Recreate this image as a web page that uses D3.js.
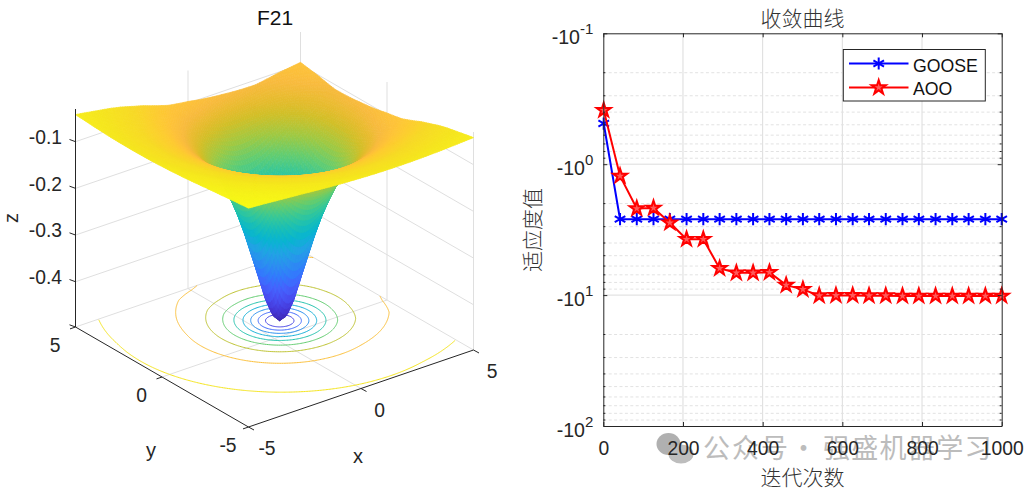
<!DOCTYPE html>
<html><head><meta charset="utf-8">
<script src="https://cdn.jsdelivr.net/npm/d3@7"></script>
<style>
html,body{margin:0;padding:0;background:#fff}
svg{display:block}
text{font-family:"Liberation Sans",Arial,sans-serif}
.cjk{font-family:"Noto Sans CJK SC",sans-serif;font-weight:300}
.cjk.wm{font-weight:400}
</style></head><body>
<svg id="c" width="1026" height="490"></svg>
<script>
// ---- convergence panel: values ----
const iterations=[1,42,84,126,167,209,251,292,334,376,417,459,501,542,584,626,667,709,751,792,834,876,917,959,1000];
const gooseValues=[0.489,2.63,2.63,2.63,2.63,2.63,2.63,2.63,2.63,2.63,2.63,2.63,2.63,2.63,2.63,2.63,2.63,2.63,2.63,2.63,2.63,2.63,2.63,2.63,2.63];
const aooValues=[0.387,1.23,2.18,2.16,2.8,3.74,3.74,6.25,6.76,6.76,6.7,8.39,9.04,10.1,10.05,10.05,10.1,10.1,10.15,10.15,10.15,10.15,10.15,10.15,10.15];
const seriesNames=["GOOSE","AOO"];
const xTickValues=[0,200,400,600,800,1000];
const yDecades=[0.1,1,10,100];
const yExponents=["-1","0","1","2"];
const yMinor=[0.2,0.3,0.4,0.5,0.6,0.7,0.8,0.9,2,3,4,5,6,7,8,9,20,30,40,50,60,70,80,90];

// ---- surface panel: height profile estimated from the contour rings and silhouette ----
// well centred at (1,1): distance -> height contribution
const wellRadius=[0,0.25,0.5,0.75,1,1.25,1.5,1.75,2,2.5,3,3.5,4,5,6,7,8,10,13];
const wellHeight=[-0.4545,-0.442,-0.408,-0.36,-0.3125,-0.266,-0.225,-0.191,-0.161,-0.118,-0.089,-0.069,-0.055,-0.037,-0.0263,-0.0196,-0.0151,-0.0098,-0.0058];
// broad sag towards the back corner: distance from (5.5,5.5) -> height contribution
const sagDistance=[0,0.7,2.1,2.55,4,5.5,6.4,8.5,10.5,12,15];
const sagHeight=[-0.0665,-0.065,-0.064,-0.0635,-0.052,-0.0436,-0.0426,-0.029,-0.0235,-0.02,-0.0141];
const contourLevels=[-0.45,-0.4,-0.35,-0.3,-0.25,-0.2,-0.15,-0.1,-0.05];
const zTickValues=[-0.1,-0.2,-0.3,-0.4];
const zTickLabels=["-0.1","-0.2","-0.3","-0.4"];
const xyTickValues=[-5,0,5];
const parula=["#3e26a8","#4537d5","#484df0","#4563fd","#327bfc","#2b91ef","#20a5e3","#08b5d0","#19bfb6","#37c897","#64cd6f","#9dc943","#d1bf27","#e6bb2d","#f8ba3d","#fec338","#fcce2e","#f7d925","#f5e51d","#f9fb15"];
const parulaIndex=[0,4,8,12,16,20,24,28,32,36,40,44,48,50,52,54,56,58,60,63];

const svg=d3.select("#c");
const ink="#262626";
const tickFont=19.3;

// ===== left panel =====
const zFloor=-0.497, zTop=-0.03, zMaxColor=-0.0276;
const corner={x:248.5,y:427};
const xSx=d3.scaleLinear([-5,5],[0,225]), xSy=d3.scaleLinear([-5,5],[0,-77]);
const ySx=d3.scaleLinear([-5,5],[0,-173]), ySy=d3.scaleLinear([-5,5],[0,-100]);
const zS=d3.scaleLinear([zFloor,zTop],[0,-218]);
const P=(x,y,z)=>[corner.x+xSx(x)+ySx(y), corner.y+xSy(x)+ySy(y)+zS(z)];
const well=d3.scaleLinear(wellRadius,wellHeight).clamp(true);
const sag=d3.scaleLinear(sagDistance,sagHeight).clamp(true);
const height=(x,y)=>well(Math.hypot(x-1,y-1))+sag(Math.hypot(x-5.5,y-5.5));
const color=d3.scaleLinear(parulaIndex.map(i=>zFloor+(zMaxColor-zFloor)*i/63),parula).clamp(true);
const line=d3.line();

const left=svg.append("g");
// back walls and floor grid
const grid=left.append("g").attr("fill","none").attr("stroke","#dfdfdf").attr("stroke-width",1);
zTickValues.forEach(z=>{
  grid.append("path").attr("d",line([P(-5,5,z),P(5,5,z),P(5,-5,z)]));
});
[0,5].forEach(x=>grid.append("path").attr("d",line([P(x,5,zFloor),P(x,5,zTop)])));
[0,-5].forEach(y=>grid.append("path").attr("d",line([P(5,y,zFloor),P(5,y,zTop)])));
grid.append("path").attr("d",line([P(0,-5,zFloor),P(0,5,zFloor)]));
grid.append("path").attr("d",line([P(-5,0,zFloor),P(5,0,zFloor)]));
grid.append("path").attr("d",line([P(-5,5,zFloor),P(5,5,zFloor),P(5,-5,zFloor)]));

// contours on the floor
const N=201, gridAxis=d3.range(N).map(i=>-5+10*i/(N-1));
const values=new Float64Array(N*N);
gridAxis.forEach((y,j)=>gridAxis.forEach((x,i)=>{values[j*N+i]=height(x,y);}));
const rings=d3.contours().size([N,N]).thresholds(contourLevels)(values);
const toDom=c=>-5+10*(c-0.5)/(N-1);
const contourG=left.append("g").attr("fill","none").attr("stroke-width",1);
rings.forEach(mp=>{
  const segs=[];
  mp.coordinates.forEach(poly=>poly.forEach(ring=>{
    let cur=[];
    ring.forEach(p=>{
      const inside=p[0]>0.51&&p[0]<N-0.51&&p[1]>0.51&&p[1]<N-0.51;
      if(inside)cur.push(P(toDom(p[0]),toDom(p[1]),zFloor));
      else{ if(cur.length>1)segs.push(cur); cur=[]; }
    });
    if(cur.length>1)segs.push(cur);
  }));
  contourG.append("path").attr("d",segs.map(s=>line(s)).join("")).attr("stroke",color(mp.value));
});

// surface, drawn back to front
const M=100, nodes=d3.range(M+1).map(i=>-5+10*i/M), cells=[];
for(let j=0;j<M;j++)for(let i=0;i<M;i++){
  const x0=nodes[i],x1=nodes[i+1],y0=nodes[j],y1=nodes[j+1];
  const z00=height(x0,y0),z10=height(x1,y0),z11=height(x1,y1),z01=height(x0,y1);
  cells.push({pts:[P(x0,y0,z00),P(x1,y0,z10),P(x1,y1,z11),P(x0,y1,z01)],z:(z00+z10+z11+z01)/4,depth:P((x0+x1)/2,(y0+y1)/2,zFloor)[1]});
}
cells.sort((a,b)=>a.depth-b.depth);
left.append("g").attr("stroke-width",0.7).selectAll("path").data(cells).join("path")
  .attr("d",d=>line(d.pts)+"Z").attr("fill",d=>color(d.z)).attr("stroke",d=>color(d.z));

// axes
const axisG=left.append("g").attr("fill","none").attr("stroke",ink).attr("stroke-width",1);
axisG.append("path").attr("d",line([P(-5,5,zTop),P(-5,5,zFloor),P(-5,-5,zFloor),P(5,-5,zFloor)]));
const tick=(p,dx,dy)=>axisG.append("path").attr("d",line([p,[p[0]+dx,p[1]+dy]]));
zTickValues.concat([zFloor]).forEach(z=>tick(P(-5,5,z),-6,-2.2));
xyTickValues.forEach(x=>tick(P(x,-5,zFloor),5.5,3));
xyTickValues.forEach(y=>tick(P(-5,y,zFloor),-5.5,1.9));
const lab=(t,x,y,anchor,size,fill)=>left.append("text").attr("x",x).attr("y",y).attr("text-anchor",anchor||"middle").attr("font-size",size||tickFont).attr("fill",fill||ink).text(t);
zTickValues.forEach((z,i)=>lab(zTickLabels[i],62,P(-5,5,z)[1]+2.2,"end"));
xyTickValues.forEach(x=>{const p=P(x,-5,zFloor);lab(String(x),p[0]+18.5,p[1]+28);});
xyTickValues.forEach(y=>{const p=P(-5,y,zFloor);lab(String(y),p[0]-20.5,p[1]+25);});
lab("F21",275,25,"middle",21,"#111");
lab("x",358,463,"middle",20);
lab("y",151,457,"middle",20);
left.append("text").attr("transform","translate(18,218) rotate(-90)").attr("text-anchor","middle").attr("font-size",20).attr("fill",ink).text("z");

// ===== right panel =====
const plot={l:603.3,r:1001.7,t:33.3,b:426};
const xScale=d3.scaleLinear([0,1000],[plot.l,plot.r]);
const yScale=d3.scaleLog([0.1,100],[plot.t,plot.b]);
const right=svg.append("g");

// watermark
const wm=right.append("g");
wm.append("ellipse").attr("cx",668.5).attr("cy",444).attr("rx",12).attr("ry",11).attr("fill","#b0b0b0");
wm.append("ellipse").attr("cx",681).attr("cy",454).attr("rx",12.5).attr("ry",9.5).attr("fill","#bdbdbd");
const wmText=wm.append("text").attr("class","cjk wm").attr("y",458).attr("font-size",27).attr("fill","#bcbcbc");
wmText.append("tspan").attr("x",703).attr("letter-spacing",2).text("公众号");
wmText.append("tspan").attr("x",790).text("·");
wmText.append("tspan").attr("x",823).attr("letter-spacing",1.3).text("强盛机器学习");

const g2=right.append("g").attr("fill","none");
xTickValues.slice(1,-1).forEach(v=>g2.append("line").attr("x1",xScale(v)).attr("x2",xScale(v)).attr("y1",plot.t).attr("y2",plot.b).attr("stroke","#dcdcdc"));
yDecades.slice(1,-1).forEach(v=>g2.append("line").attr("x1",plot.l).attr("x2",plot.r).attr("y1",yScale(v)).attr("y2",yScale(v)).attr("stroke","#dcdcdc"));
yMinor.forEach(v=>g2.append("line").attr("x1",plot.l).attr("x2",plot.r).attr("y1",yScale(v)).attr("y2",yScale(v)).attr("stroke","#e2e2e2").attr("stroke-dasharray","3 2.4"));

const seriesLine=d3.line().x((d,i)=>xScale(iterations[i])).y(d=>yScale(d));
const star=d3.symbol(d3.symbolStar,62)(), aster=d3.symbol(d3.symbolAsterisk,105)();
const markFill={"#0000ff":"none","#ff0000":"#ff5a5a"};
[[gooseValues,"#0000ff",aster],[aooValues,"#ff0000",star]].forEach(([vals,col,sym])=>{
  const g=right.append("g");
  g.append("path").attr("d",seriesLine(vals)).attr("fill","none").attr("stroke",col).attr("stroke-width",2);
  g.selectAll("path.m").data(vals).join("path").attr("class","m").attr("d",sym)
    .attr("transform",(d,i)=>`translate(${xScale(iterations[i])},${yScale(d)})`)
    .attr("fill",markFill[col]).attr("stroke",col).attr("stroke-width",2);
});

// box, ticks, labels via d3 axes
const frame=right.append("g");
const xAxis=frame.append("g").attr("transform",`translate(0,${plot.b})`).call(d3.axisBottom(xScale).tickValues(xTickValues).tickSizeInner(-4).tickSizeOuter(0).tickFormat(d3.format("d")));
xAxis.selectAll("text").attr("y",28.5).attr("dy",0).attr("font-size",tickFont).attr("fill",ink).attr("font-family","Liberation Sans");
const xTop=frame.append("g").attr("transform",`translate(0,${plot.t})`).call(d3.axisTop(xScale).tickValues(xTickValues).tickSizeInner(-4).tickSizeOuter(0).tickFormat(""));
const yAxis=frame.append("g").attr("transform",`translate(${plot.l},0)`).call(d3.axisLeft(yScale).tickValues(yDecades).tickSizeInner(-4).tickSizeOuter(0).tickFormat(""));
const yRight=frame.append("g").attr("transform",`translate(${plot.r},0)`).call(d3.axisRight(yScale).tickValues(yDecades).tickSizeInner(-4).tickSizeOuter(0).tickFormat(""));
frame.selectAll(".domain,line").attr("stroke",ink);
frame.selectAll(".domain").attr("stroke-width",1);
yDecades.forEach((v,i)=>{
  const t=frame.append("text").attr("x",plot.l-10).attr("y",yScale(v)+10.5).attr("text-anchor","end").attr("font-size",19.6).attr("fill",ink);
  t.append("tspan").text("-10");
  t.append("tspan").attr("font-size",15).attr("dy",-9.5).text(yExponents[i]);
});
yMinor.forEach(v=>{
  frame.append("line").attr("x1",plot.l).attr("x2",plot.l+2).attr("y1",yScale(v)).attr("y2",yScale(v)).attr("stroke",ink);
  frame.append("line").attr("x1",plot.r).attr("x2",plot.r-2).attr("y1",yScale(v)).attr("y2",yScale(v)).attr("stroke",ink);
});
const cjkInk="#333";
right.append("text").attr("class","cjk").attr("x",802.5).attr("y",25.5).attr("text-anchor","middle").attr("font-size",21).attr("fill",cjkInk).text("收敛曲线");
right.append("text").attr("class","cjk").attr("x",802.5).attr("y",485).attr("text-anchor","middle").attr("font-size",21).attr("fill",cjkInk).text("迭代次数");
right.append("text").attr("class","cjk").attr("transform","translate(540,230) rotate(-90)").attr("text-anchor","middle").attr("font-size",21).attr("fill",cjkInk).text("适应度值");

// legend
const lg=right.append("g");
lg.append("rect").attr("x",843.3).attr("y",49.5).attr("width",142).attr("height",51.5).attr("fill","#fff").attr("stroke",ink);
[["#0000ff",aster,63.5,71.5],["#ff0000",star,87.5,95]].forEach(([col,sym,y,by],i)=>{
  lg.append("line").attr("x1",849).attr("x2",908.5).attr("y1",y).attr("y2",y).attr("stroke",col).attr("stroke-width",2);
  lg.append("path").attr("d",sym).attr("transform",`translate(878.7,${y})`).attr("fill",markFill[col]).attr("stroke",col).attr("stroke-width",2);
  lg.append("text").attr("x",913).attr("y",by).attr("font-size",17.7).attr("fill","#111").text(seriesNames[i]);
});
</script></body></html>
